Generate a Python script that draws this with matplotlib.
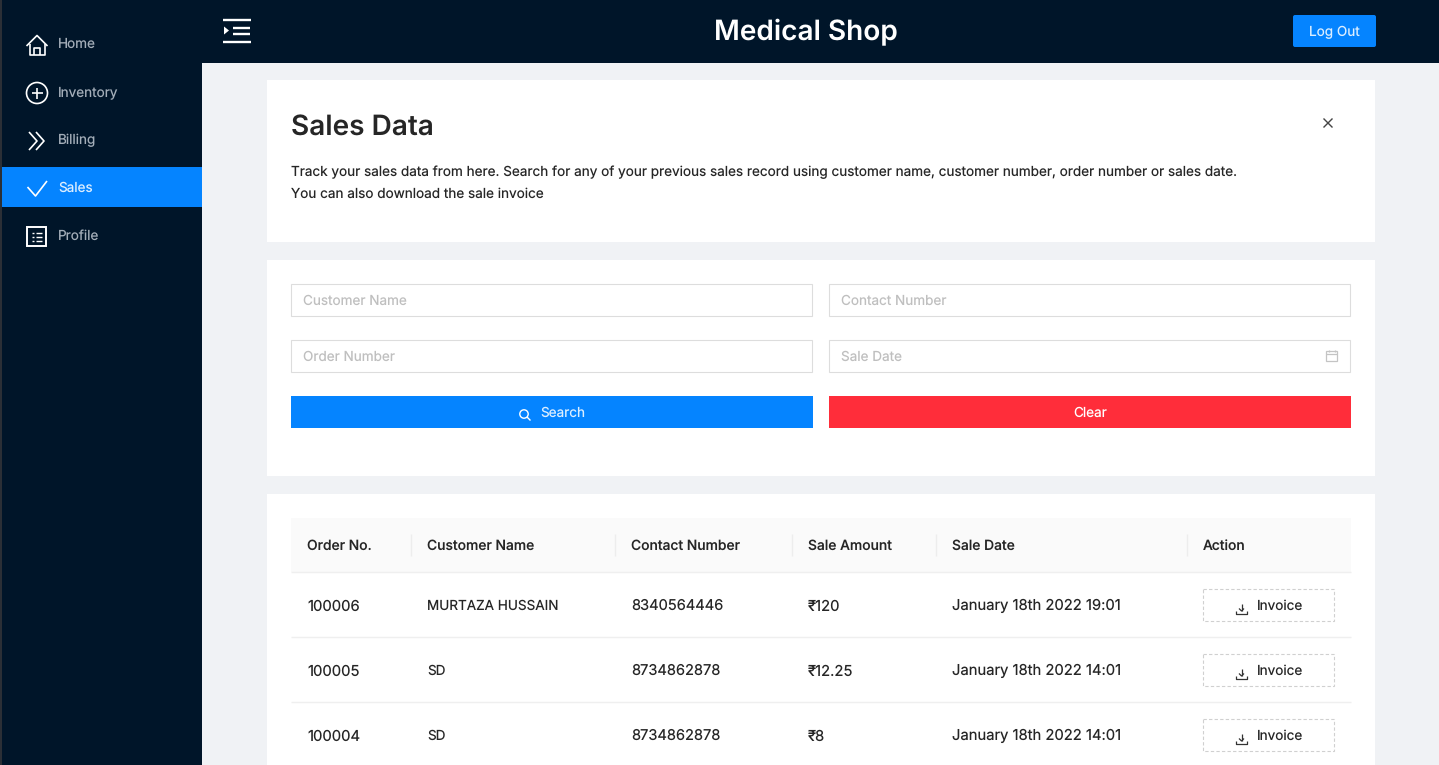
import matplotlib
matplotlib.use("Agg")
import matplotlib.pyplot as plt
from matplotlib.patches import Rectangle, FancyBboxPatch, Circle, Polygon

plt.rcParams['font.family'] = ['Inter', 'Noto Sans', 'DejaVu Sans']
plt.rcParams['text.hinting'] = 'no_hinting'

nav_labels = ["Home", "Inventory", "Billing", "Sales", "Profile"]
page_title = "Medical Shop"
card_title = "Sales Data"
card_lines = [
    "Track your sales data from here. Search for any of your previous sales record using customer name, customer number, order number or sales date.",
    "You can also download the sale invoice",
]
placeholders = ["Customer Name", "Contact Number", "Order Number", "Sale Date"]
columns = ["Order No.", "Customer Name", "Contact Number", "Sale Amount", "Sale Date", "Action"]
order_no = ["100006", "100005", "100004"]
customers = ["MURTAZA HUSSAIN", "SD", "SD"]
contacts = ["8340564446", "8734862878", "8734862878"]
amounts = ["₹120", "₹12.25", "₹8"]
sale_dates = ["January 18th 2022 19:01", "January 18th 2022 14:01", "January 18th 2022 14:01"]

NAVY = "#001529"
BLUE = "#0584FF"
RED = "#FF2D3A"
TEXT = "#262626"
GREY = "#BFBFBF"
NAVTEXT = "#A3ADB8"

fig = plt.figure(figsize=(14.39, 7.65), dpi=100)
ax = fig.add_axes([0, 0, 1, 1])
ax.set_xlim(0, 1439)
ax.set_ylim(765, 0)
ax.axis("off")


def box(x, y, w, h, color, **kw):
    ax.add_patch(Rectangle((x, y), w, h, facecolor=color, edgecolor=kw.pop("ec", "none"), **kw))


def label(x, y, s, size=9.75, color=TEXT, ha="left", **kw):
    # y is the middle of the capitals, baseline keeps rows level
    ax.text(x, y + 0.505 * size, s, fontsize=size, color=color, ha=ha, va="baseline", **kw)


def line(xs, ys, color="white", lw=1.2, **kw):
    ax.plot(xs, ys, color=color, lw=lw, solid_capstyle=kw.pop("cap", "butt"), **kw)


# page background, sidebar, header
box(0, 0, 1439, 765, "#F0F2F5")
box(0, 0, 202, 765, NAVY)
box(202, 0, 1237, 63, NAVY)
box(0, 0, 2, 765, "#2B2F36")

# sidebar
nav_y = [43, 91, 139, 187, 235]
box(2, 167, 200, 40, BLUE)
for name, y in zip(nav_labels, nav_y):
    label(58, y, name, color="#DCEEFF" if name == "Sales" else NAVTEXT)

# home icon
line([26.5, 37, 47.5], [46, 35.5, 46])
line([29.5, 29.5, 44.5, 44.5], [44, 55, 55, 44])
line([34, 34, 40, 40], [55, 48, 48, 55])
# inventory icon
ax.add_patch(Circle((37, 93), 10.5, fill=False, ec="white", lw=1.2))
line([31.5, 42.5], [93, 93])
line([37, 37], [87.5, 98.5])
# billing icon
line([29, 37, 29], [132, 141, 150])
line([36, 44, 36], [132, 141, 150])
# sales icon
line([27.5, 35.5, 47], [187, 196, 181])
# profile icon
box(27, 227, 19, 19, "none", ec="white", lw=1.4)
for yy in [233, 237, 241]:
    line([32, 33.5], [yy, yy], lw=1)
    line([35.5, 41.5], [yy, yy], lw=1)

# header
line([223, 251], [19.5, 19.5], lw=1.7)
line([233, 250], [28, 28], lw=1.7)
line([233, 250], [34, 34], lw=1.7)
line([223, 251], [41.5, 41.5], lw=1.7)
ax.add_patch(Polygon([[224, 26.5], [229, 30.5], [224, 34.5]], fc="white", ec="none"))
label(806, 30, page_title, size=20.16, color="white", ha="center", weight="semibold")
ax.add_patch(FancyBboxPatch((1293, 15), 83, 32, boxstyle="round,pad=0,rounding_size=2", fc=BLUE, ec="none"))
label(1334.5, 31, "Log Out", color="#DCEEFF", ha="center")

# cards
box(267, 80, 1108, 162, "white")
box(267, 260, 1108, 216, "white")
box(267, 494, 1108, 271, "white")

label(291, 125, card_title, size=20.16, weight="semibold")
label(291, 171, card_lines[0])
label(291, 193, card_lines[1])
line([1323.5, 1332.5], [118.5, 127.5], color="#444444", lw=1)
line([1323.5, 1332.5], [127.5, 118.5], color="#444444", lw=1)

# search form
field_pos = [(291, 284), (829, 284), (291, 340), (829, 340)]
for (fx, fy), text in zip(field_pos, placeholders):
    box(fx, fy, 521, 31.5, "white", ec="#DDDDDD", lw=0.8)
    label(fx + 12, fy + 16, text, color=GREY)

# calendar icon
box(1326, 351, 11, 10, "none", ec="#C4C4C4", lw=0.9)
line([1326, 1337], [354, 354], color="#C4C4C4", lw=0.9)
line([1328.5, 1328.5], [349.5, 352], color="#C4C4C4", lw=0.9)
line([1334.5, 1334.5], [349.5, 352], color="#C4C4C4", lw=0.9)

box(291, 396, 522, 32, BLUE)
box(829, 396, 522, 32, RED)
label(563, 412, "Search", color="#DCEEFF", ha="center")
label(1090, 412, "Clear", color="white", ha="center")
ax.add_patch(Circle((524, 414), 4.2, fill=False, ec="white", lw=1))
line([527, 530.5], [417, 420.5], lw=1)

# table
box(291, 518, 1060, 54, "#FAFAFA")
col_x = [307, 427, 631, 807.5, 952, 1203]
for cx, name in zip(col_x, columns):
    label(cx, 545, name, size=9.98, weight="medium")
for sx in [410.5, 614.5, 791.5, 935.5, 1186.5]:
    line([sx, sx], [534, 556], color="#EDEDED", lw=1)
line([291, 1351], [572, 572], color="#EFEFEF", lw=1)

row_y = [605, 670, 735]
for i, ry in enumerate(row_y):
    # reference digits are tabular, so the digit columns run a bit larger
    label(col_x[0], ry, order_no[i], size=10.7)
    label(col_x[1], ry, customers[i])
    label(col_x[2], ry, contacts[i], size=10.55)
    label(col_x[3], ry, amounts[i], size=10.7)
    label(col_x[4], ry, sale_dates[i], size=10.65)
    line([291, 1351], [ry + 32, ry + 32], color="#EFEFEF", lw=1)
    # invoice button
    ax.add_patch(Rectangle((1203, ry - 16.5), 131, 32, fc="white", ec="#D0D0D0", lw=0.8, ls=(0, (3, 2))))
    label(1257, ry, "Invoice")
    line([1241.5, 1241.5], [ry - 1, ry + 6], color="#333333", lw=0.9)
    line([1239, 1241.5, 1244], [ry + 3.5, ry + 6, ry + 3.5], color="#333333", lw=0.9)
    line([1236, 1236, 1247, 1247], [ry + 6, ry + 9, ry + 9, ry + 6], color="#333333", lw=0.9)

fig.savefig("out.png", dpi=100)
